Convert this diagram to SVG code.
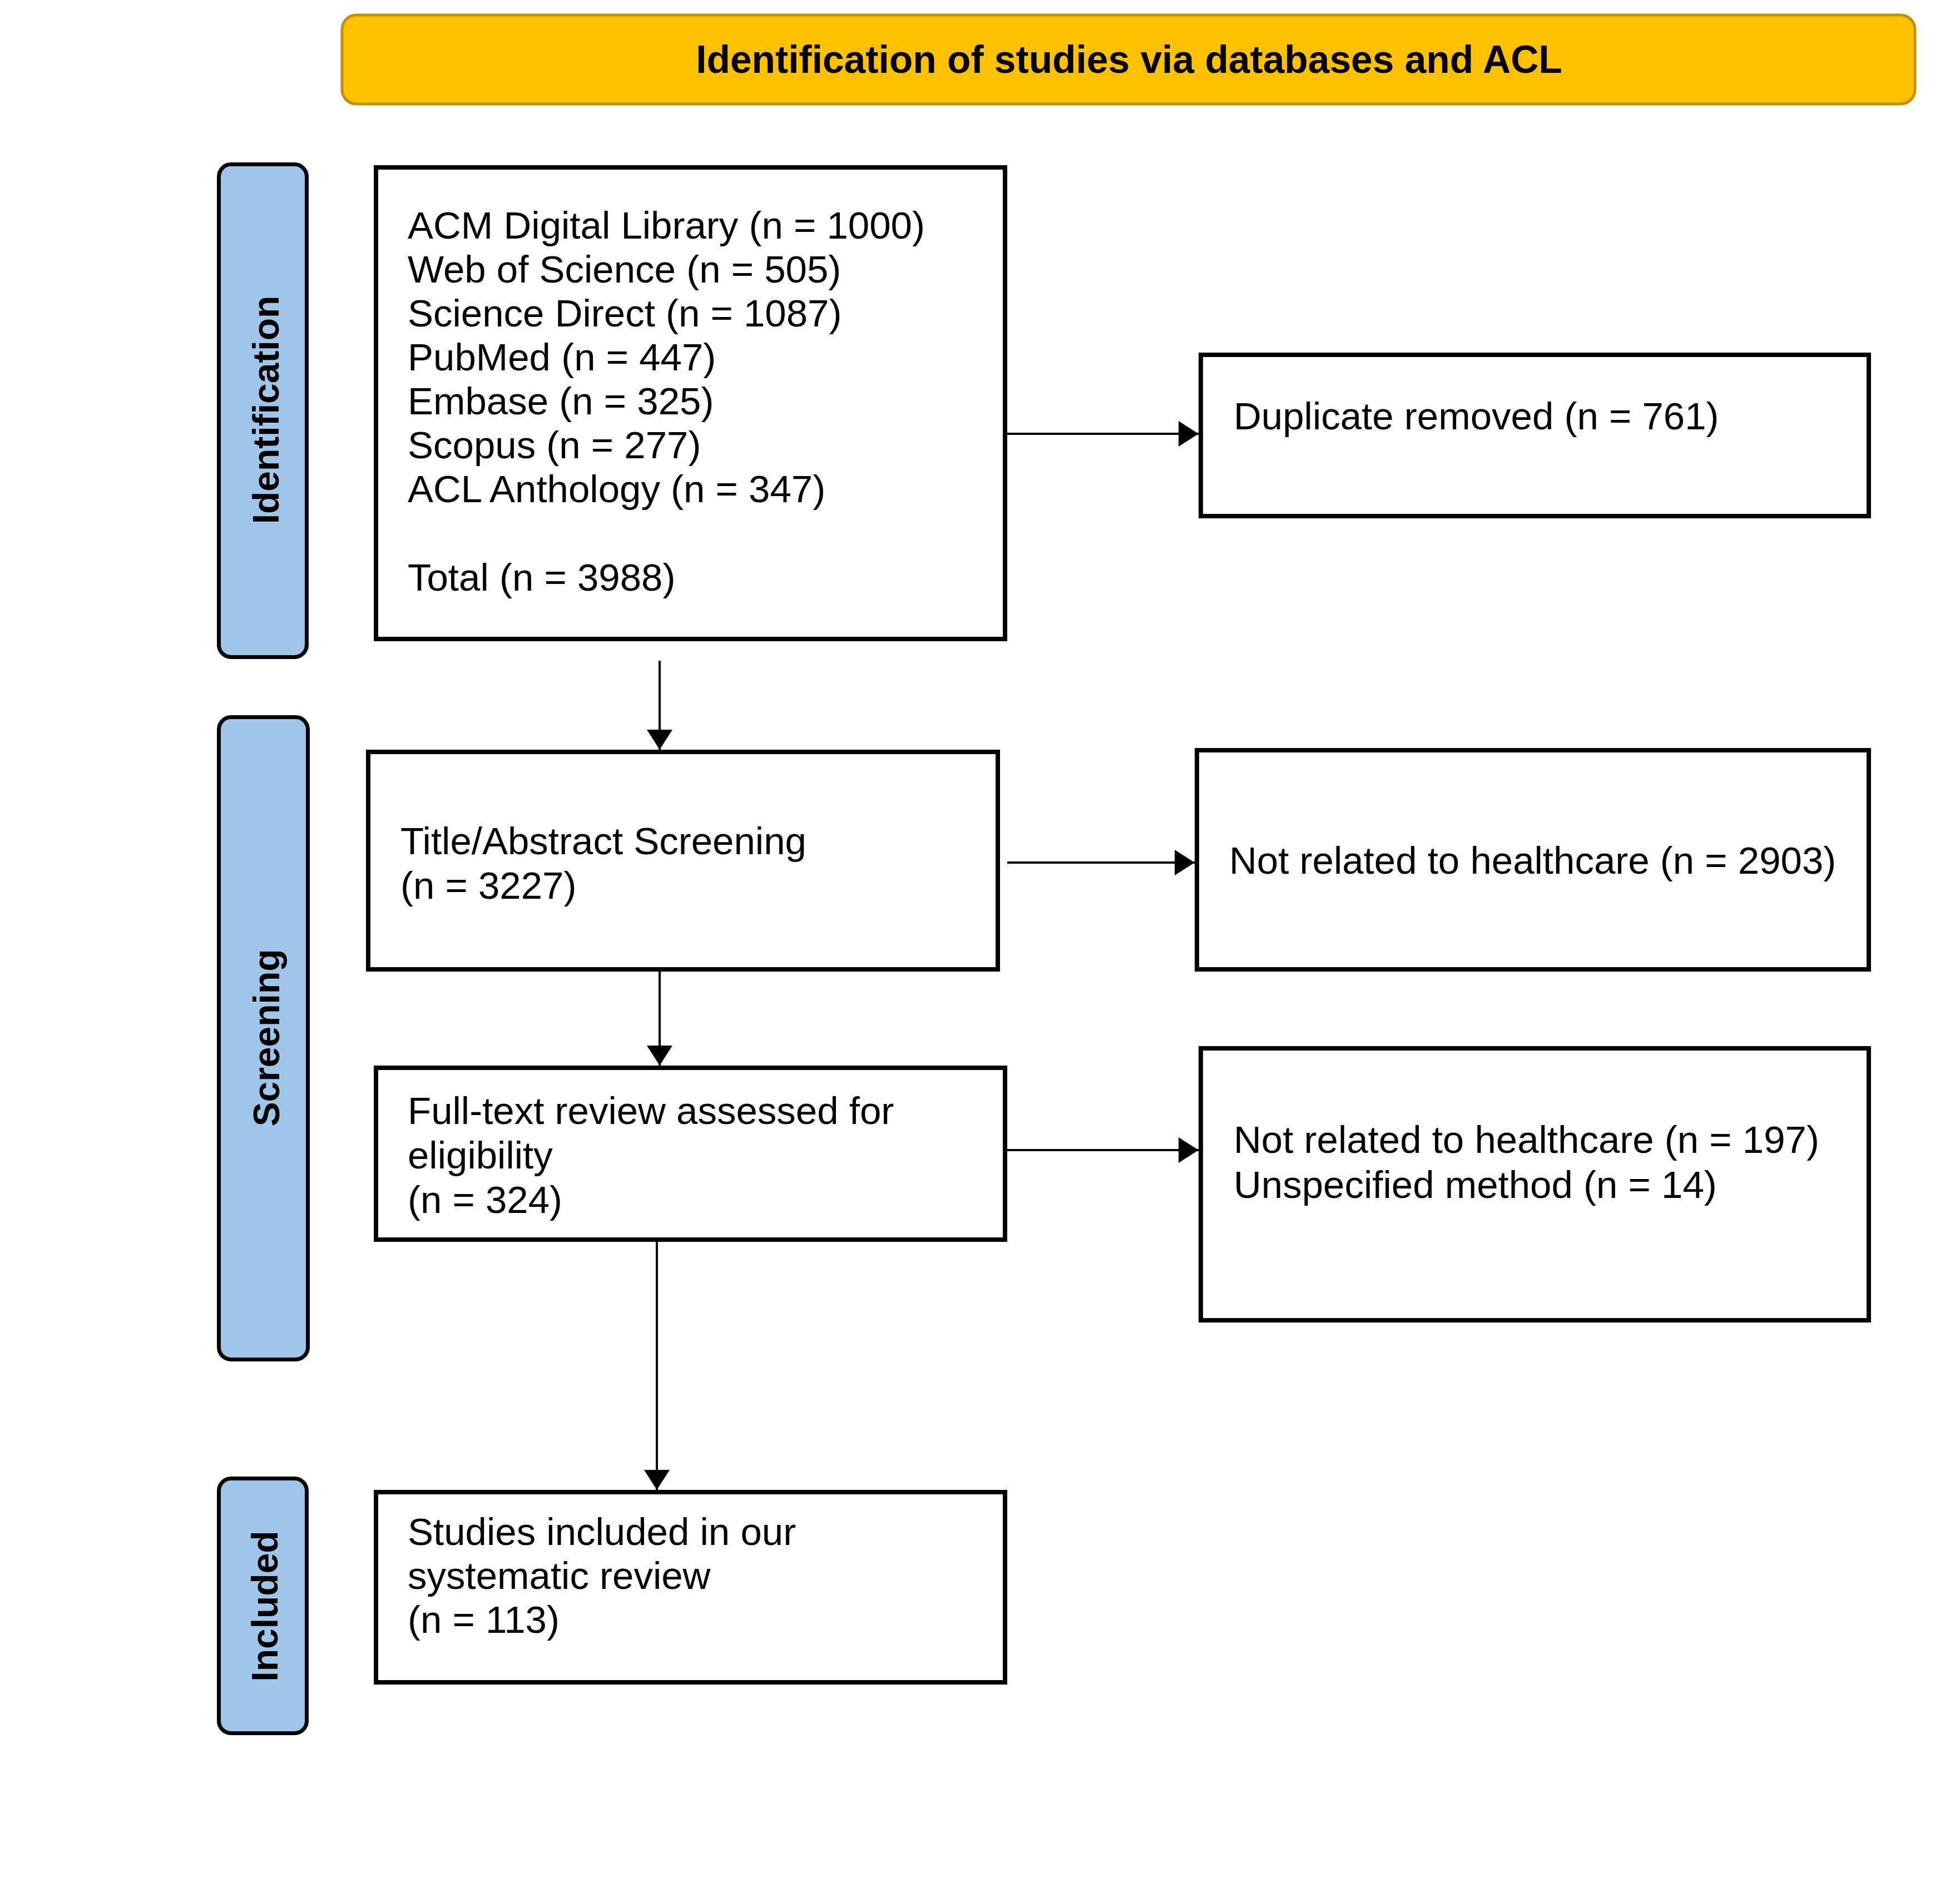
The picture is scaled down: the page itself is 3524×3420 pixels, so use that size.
<svg xmlns="http://www.w3.org/2000/svg" width="3524" height="3420" viewBox="0 0 3524 3420">
<style>
.box{fill:#ffffff;stroke:#000000;stroke-width:8}
.pill{fill:#9fc5e8;stroke:#000000;stroke-width:7}
.hdr{fill:#ffc000;stroke:#bf9000;stroke-width:5}
.t{font-family:"Liberation Sans",Arial,Helvetica,sans-serif;font-size:69px;fill:#000000}
.b{font-family:"Liberation Sans",Arial,Helvetica,sans-serif;font-weight:bold;fill:#000000}
.c{fill:none;stroke:#000000;stroke-width:4}
</style>
<defs>
<marker id="ah" markerWidth="36" markerHeight="46" refX="36" refY="23" orient="auto" markerUnits="userSpaceOnUse">
<path d="M0,0 L36,23 L0,46 z" fill="#000000"/>
</marker>
</defs>
<rect width="3524" height="3420" fill="#ffffff"/>
<g id="header">
<rect class="hdr" x="615" y="27" width="2828" height="160" rx="26" ry="26"/>
<text class="b" x="2030" y="131" font-size="69.5" text-anchor="middle">Identification of studies via databases and ACL</text>
</g>
<g id="phase-identification">
<rect class="pill" x="393.5" y="295.5" width="158" height="886" rx="22" ry="22"/>
<text class="b" font-size="66" text-anchor="middle" transform="translate(501,737) rotate(-90)">Identification</text>
</g>
<g id="phase-screening">
<rect class="pill" x="393.5" y="1289.5" width="160" height="1155" rx="22" ry="22"/>
<text class="b" font-size="66" text-anchor="middle" transform="translate(502,1866) rotate(-90)">Screening</text>
</g>
<g id="phase-included">
<rect class="pill" x="393.5" y="2658.5" width="158" height="458" rx="22" ry="22"/>
<text class="b" font-size="66" text-anchor="middle" transform="translate(499,2888) rotate(-90)">Included</text>
</g>
<g id="node-sources">
<rect class="box" x="676" y="301" width="1131" height="848"/>
<text class="t" x="733" y="429">ACM Digital Library (n = 1000)</text>
<text class="t" x="733" y="508">Web of Science (n = 505)</text>
<text class="t" x="733" y="587">Science Direct (n = 1087)</text>
<text class="t" x="733" y="666">PubMed (n = 447)</text>
<text class="t" x="733" y="745">Embase (n = 325)</text>
<text class="t" x="733" y="824">Scopus (n = 277)</text>
<text class="t" x="733" y="903">ACL Anthology (n = 347)</text>
<text class="t" x="733" y="1062">Total (n = 3988)</text>
</g>
<g id="node-duplicates">
<rect class="box" x="2159" y="638" width="1201" height="290"/>
<text class="t" x="2218" y="772">Duplicate removed (n = 761)</text>
</g>
<g id="node-title-abstract">
<rect class="box" x="662" y="1352" width="1132" height="391"/>
<text class="t" x="720" y="1536">Title/Abstract Screening</text>
<text class="t" x="720" y="1616">(n = 3227)</text>
</g>
<g id="node-excluded-1">
<rect class="box" x="2152" y="1349" width="1208" height="394"/>
<text class="t" x="2210" y="1571">Not related to healthcare (n = 2903)</text>
</g>
<g id="node-full-text">
<rect class="box" x="676" y="1920" width="1131" height="309"/>
<text class="t" x="733" y="2021">Full-text review assessed for</text>
<text class="t" x="733" y="2101">eligibility</text>
<text class="t" x="733" y="2181">(n = 324)</text>
</g>
<g id="node-excluded-2">
<rect class="box" x="2159" y="1885" width="1201" height="489"/>
<text class="t" x="2218" y="2073">Not related to healthcare (n = 197)</text>
<text class="t" x="2218" y="2154">Unspecified method (n = 14)</text>
</g>
<g id="node-included">
<rect class="box" x="676" y="2683" width="1131" height="342"/>
<text class="t" x="733" y="2778">Studies included in our</text>
<text class="t" x="733" y="2857">systematic review</text>
<text class="t" x="733" y="2936">(n = 113)</text>
</g>
<g id="connectors">
<line class="c" x1="1811" y1="780" x2="2155" y2="780" marker-end="url(#ah)"/>
<line class="c" x1="1186" y1="1188" x2="1186" y2="1348" marker-end="url(#ah)"/>
<line class="c" x1="1811" y1="1551" x2="2148" y2="1551" marker-end="url(#ah)"/>
<line class="c" x1="1186" y1="1747" x2="1186" y2="1916" marker-end="url(#ah)"/>
<line class="c" x1="1811" y1="2068" x2="2155" y2="2068" marker-end="url(#ah)"/>
<line class="c" x1="1181" y1="2233" x2="1181" y2="2679" marker-end="url(#ah)"/>
</g>
</svg>
